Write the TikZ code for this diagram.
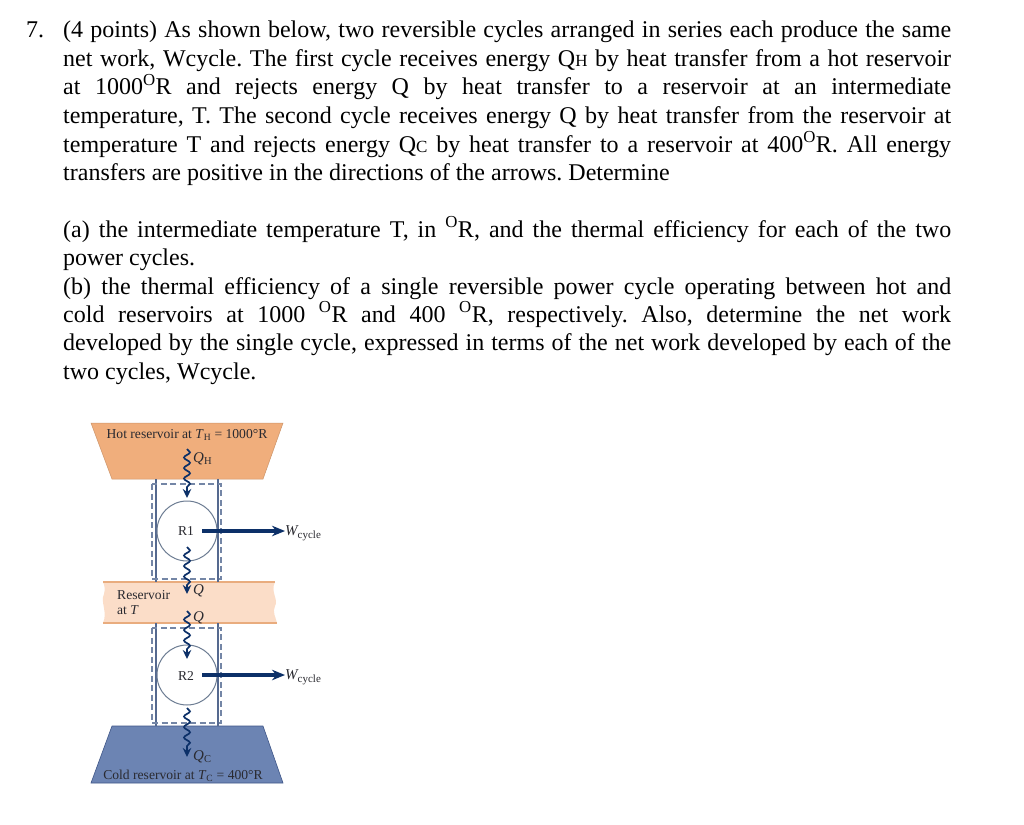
\documentclass[tikz,border=0pt]{standalone}
\usepackage{fontspec}
\setmainfont{Liberation Serif}
\usepackage{tikz}
\usetikzlibrary{arrows.meta}
\usetikzlibrary{calc}
\usetikzlibrary{decorations}
\usetikzlibrary{decorations.pathmorphing}
\usetikzlibrary{positioning}

\definecolor{hotres}{HTML}{F0AE7C}
\definecolor{midres}{HTML}{FBDDC8}
\definecolor{midedge}{HTML}{E9AC7E}
\definecolor{coldres}{HTML}{6C84B3}
\definecolor{coldedge}{HTML}{3F5688}
\definecolor{navy}{HTML}{0C3068}
\definecolor{wallblue}{HTML}{55698F}
\definecolor{dashblue}{HTML}{7486A6}
\definecolor{ringgrey}{HTML}{6C7C92}
\definecolor{figtext}{HTML}{2A2A30}

\newcommand{\smc}[1]{{\fontsize{17}{17}\selectfont #1}}
\newcommand{\sub}[1]{\textsubscript{\upshape #1}}

\tikzset{
  txtline/.style={anchor=base west, inner sep=0pt, font=\fontsize{24}{28}\selectfont},
  figlabel/.style={inner sep=0pt, text=figtext, font=\fontsize{13.6}{15}\selectfont},
  heat/.style={navy, line width=1.7pt, -{Stealth[length=9pt,width=8.5pt]}, decorate,
    decoration={snake, amplitude=3pt, segment length=10.5pt, post length=8pt}},
  workarrow/.style={navy, line width=3.2pt, -{Stealth[length=13pt,width=10.5pt]}},
  wall/.style={wallblue, line width=1.1pt},
  sysedge/.style={dashblue, line width=1.1pt, dash pattern=on 6pt off 3.5pt},
  cyclering/.style={circle, draw=ringgrey, line width=1pt, minimum size=60pt, inner sep=0pt},
  heatlabel/.style={figlabel, anchor=base west, font=\fontsize{15}{16}\selectfont},
  worklabel/.style={figlabel, anchor=west, font=\fontsize{15}{16}\itshape}
}

\newcommand{\fullline}[1]{\hbox to 888pt{#1}}

\begin{document}
\frenchspacing
\begin{tikzpicture}[x=1pt, y=-1pt]
  \useasboundingbox (0, 0) rectangle (1024, 824);
  \fill[white] (0, 0) rectangle (1024, 824);

  % question text
  \node[txtline] (num) at (26, 38) {7.};
  \node[txtline] (l1) at (63, 38) {\fullline{(4 points) As shown below, two reversible cycles arranged in series each produce the same}};
  \node[txtline] (l2) at (63, 67) {\fullline{net work, Wcycle. The first cycle receives energy Q\smc{H} by heat transfer from a hot reservoir}};
  \node[txtline] (l3) at (63, 95) {\fullline{at 1000\textsuperscript{O}R and rejects energy Q by heat transfer to a reservoir at an intermediate}};
  \node[txtline] (l4) at (63, 123) {\fullline{temperature, T. The second cycle receives energy Q by heat transfer from the reservoir at}};
  \node[txtline] (l5) at (63, 152) {\fullline{temperature T and rejects energy Q\smc{C} by heat transfer to a reservoir at 400\textsuperscript{O}R. All energy}};
  \node[txtline] (l6) at (63, 180) {transfers are positive in the directions of the arrows. Determine};

  \node[txtline] (a1) at (63, 237) {\fullline{(a) the intermediate temperature T, in \textsuperscript{O}R, and the thermal efficiency for each of the two}};
  \node[txtline] (a2) at (63, 265) {power cycles.};
  \node[txtline] (b1) at (63, 294) {\fullline{(b) the thermal efficiency of a single reversible power cycle operating between hot and}};
  \node[txtline] (b2) at (63, 322) {\fullline{cold reservoirs at 1000 \textsuperscript{O}R and 400 \textsuperscript{O}R, respectively. Also, determine the net work}};
  \node[txtline] (b3) at (63, 350) {\fullline{developed by the single cycle, expressed in terms of the net work developed by each of the}};
  \node[txtline] (b4) at (63, 379) {two cycles, Wcycle.};

  % reservoirs
  \filldraw[fill=hotres, draw=hotres!85!black, line width=0.5pt]
    (91, 423) -- (283, 423) -- (263, 479) -- (112, 479) -- cycle;
  \fill[midres] (103, 582) -- (275, 582)
    .. controls (270, 592) and (279, 600) .. (275, 606)
    .. controls (272, 612) and (276, 618) .. (277, 623)
    -- (103, 623)
    .. controls (108, 612) and (100, 602) .. (104, 594)
    .. controls (105, 590) and (105, 586) .. (103, 582) -- cycle;
  \draw[midedge, line width=1.1pt] (103, 582) -- (275, 582);
  \draw[midedge, line width=1.1pt] (103, 623) -- (277, 623);
  \filldraw[fill=coldres, draw=coldedge, line width=0.6pt]
    (112, 726) -- (263, 726) -- (283, 783) -- (91, 783) -- cycle;

  % first cycle
  \begin{scope}
    \draw[wall] (156, 479) -- (156, 582);
    \draw[wall] (218, 479) -- (218, 582);
    \draw[sysedge] (152, 484) rectangle (221, 579);
    \node[cyclering] (ring1) at (187, 531) {};
    \node[figlabel] (R1) at (186, 531) {R1};
    \coordinate (w1start) at (202, 531);
    \node[worklabel] (W1) at (285, 533) {W\sub{\fontsize{11}{12}\selectfont cycle}};
    \draw[workarrow] (w1start) -- (w1start -| W1.west);
  \end{scope}

  % second cycle
  \begin{scope}
    \draw[wall] (156, 623) -- (156, 726);
    \draw[wall] (218, 623) -- (218, 726);
    \draw[sysedge] (152, 628) rectangle (221, 723);
    \node[cyclering] (ring2) at (187, 675) {};
    \node[figlabel] (R2) at (186, 676) {R2};
    \coordinate (w2start) at (202, 675);
    \node[worklabel] (W2) at (285, 677) {W\sub{\fontsize{11}{12}\selectfont cycle}};
    \draw[workarrow] (w2start) -- (w2start -| W2.west);
  \end{scope}

  % heat flows
  \coordinate (qh0) at (187, 449);
  \coordinate (qh1) at (187, 498);
  \coordinate (q0) at (187, 547);
  \coordinate (q1) at (187, 594);
  \coordinate (qb0) at (187, 611);
  \coordinate (qb1) at (187, 659);
  \coordinate (qc0) at (187, 708);
  \coordinate (qc1) at (187, 757);
  \draw[heat] (qh0) -- (qh1);
  \draw[heat] (q0) -- (q1);
  \draw[heat] (qb0) -- (qb1);
  \draw[heat] (qc0) -- (qc1);

  % labels
  \node[figlabel, anchor=base] (hotlabel) at (187, 438) {Hot reservoir at \textit{T}\sub{H} = 1000°R};
  \node[heatlabel] (QH) at (193, 462) {\textit{Q}\sub{H}};
  \node[heatlabel] (Q1) at (193, 594) {\textit{Q}};
  \node[figlabel, anchor=base west] (midlabel) at (117, 599) {Reservoir};
  \node[figlabel, anchor=base west] (midlabel2) at (117, 614) {at \textit{T}};
  \node[heatlabel] (Q2) at (193, 621) {\textit{Q}};
  \node[heatlabel] (QC) at (193, 760) {\textit{Q}\sub{C}};
  \node[figlabel, anchor=base] (coldlabel) at (183, 779) {Cold reservoir at \textit{T}\sub{C} = 400°R};
\end{tikzpicture}
\end{document}
